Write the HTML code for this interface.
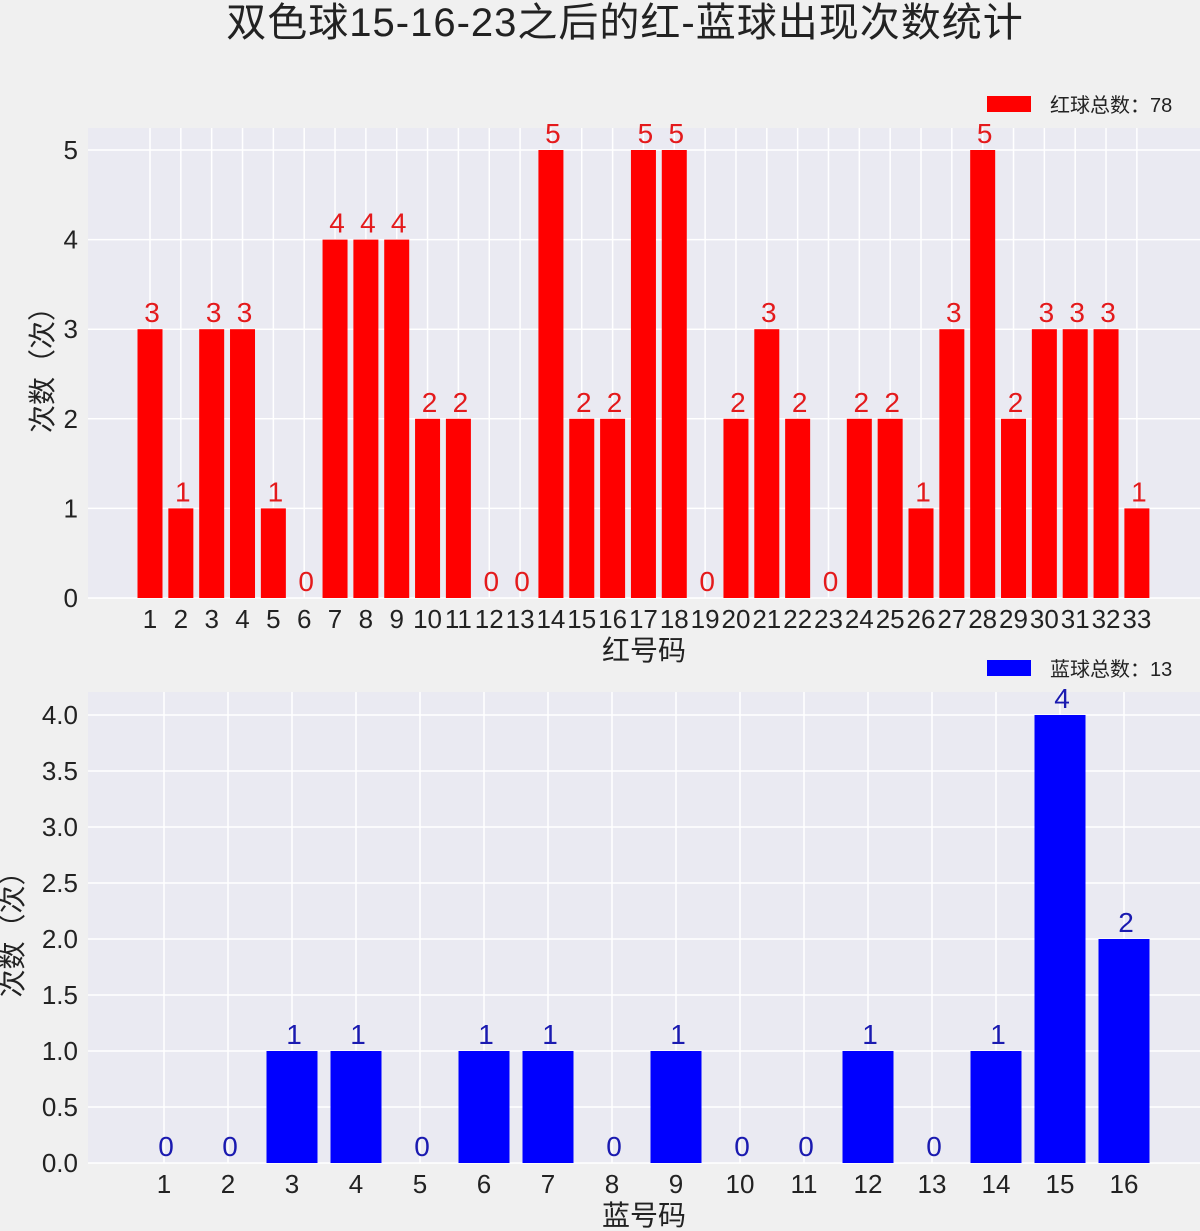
<!DOCTYPE html>
<html><head><meta charset="utf-8">
<style>
html,body{margin:0;padding:0;background:#f0f0f0;}
svg{display:block;font-family:"Liberation Sans","Noto Sans CJK SC",sans-serif;}
</style></head>
<body>
<svg id="c" width="1200" height="1231">
<rect x="0" y="0" width="1200" height="1231" fill="#f0f0f0"/>
<text x="625" y="36" font-size="40" letter-spacing="1" text-anchor="middle" fill="#222">双色球15-16-23之后的红-蓝球出现次数统计</text>
</svg>
<script>
const redCats = [1,2,3,4,5,6,7,8,9,10,11,12,13,14,15,16,17,18,19,20,21,22,23,24,25,26,27,28,29,30,31,32,33];
const redVals = [3,1,3,3,1,0,4,4,4,2,2,0,0,5,2,2,5,5,0,2,3,2,0,2,2,1,3,5,2,3,3,3,1];
const redTicks = [0,1,2,3,4,5];
const blueCats = [1,2,3,4,5,6,7,8,9,10,11,12,13,14,15,16];
const blueVals = [0,0,1,1,0,1,1,0,1,0,0,1,0,1,4,2];
const blueTicks = ["0.0","0.5","1.0","1.5","2.0","2.5","3.0","3.5","4.0"];

const svg = document.getElementById('c');
const NS = 'http://www.w3.org/2000/svg';
function mk(tag, attrs, parent){
  const e = document.createElementNS(NS, tag);
  for (const k in attrs) e.setAttribute(k, attrs[k]);
  (parent||svg).appendChild(e);
  return e;
}

function drawChart(o){
  const g = mk('g', {});
  
  
  const bg = mk('rect', {x:o.left, y:o.top, width:o.right-o.left, height:o.bottom-o.top, fill:'#eaeaf2'}, g);
  
  
  const xs = c => o.x0 + (c - o.cats[0]) * o.step;
  const ys = v => o.y0 - v * o.unit;
  o.ticks.forEach(t => {
    const v = parseFloat(t);
    const y = ys(v);
    const ln = mk('line', {x1:o.left, x2:o.right, y1:y, y2:y, stroke:'#fff', 'stroke-width':1.5}, g);
    
    
    const tx = mk('text', {x:o.left-10, y:y+9, 'font-size':26, 'text-anchor':'end', fill:'#222'}, g);
    tx.textContent = t;
    
    
  });
  o.cats.forEach(c => {
    const x = xs(c);
    const ln = mk('line', {x1:x, x2:x, y1:o.top, y2:o.bottom, stroke:'#fff', 'stroke-width':1.5}, g);
    
    
  });
  o.cats.forEach((c, i) => {
    const x = xs(c), v = o.vals[i];
    const r = mk('rect', {x:x-o.bw/2, y:ys(v), width:o.bw, height:o.y0-ys(v), fill:o.color}, g);
    
    
    const vl = mk('text', {x:x+2, y:ys(v)-7, 'font-size':28, 'text-anchor':'middle', fill:o.labelColor}, g);
    vl.textContent = v;
    
    
    const xl = mk('text', {x:x, y:o.bottom+30, 'font-size':26, 'text-anchor':'middle', fill:'#222'}, g);
    xl.textContent = c;
    
    
  });
  const xt = mk('text', {x:644, y:o.bottom+62, 'font-size':28, 'text-anchor':'middle', fill:'#222'}, g);
  xt.textContent = o.xTitle;
  
  
  const cy = (o.top+o.bottom)/2;
  const yt = mk('text', {x:o.yTitleX, y:cy, 'font-size':28, 'text-anchor':'middle', fill:'#222', transform:'rotate(-90 '+o.yTitleX+' '+cy+')'}, g);
  yt.textContent = '次数（次）';
  
  
  const lg = mk('g', {}, g);
  
  
  mk('rect', {x:987, y:o.legendY-8, width:44, height:16, fill:o.color}, lg);
  const lt = mk('text', {x:1050, y:o.legendY+8, 'font-size':20, fill:'#222'}, lg);
  lt.textContent = o.legend;
}

drawChart({name:'red-chart', left:88, right:1200, top:128, bottom:598, cats:redCats, vals:redVals, ticks:redTicks,
  x0:150, step:30.84, y0:598, unit:89.6, bw:25, color:'#ff0000', labelColor:'#e41a1c',
  xTitle:'红号码', yTitleX:52, legend:'红球总数：78', legendY:104});
drawChart({name:'blue-chart', left:88, right:1200, top:692, bottom:1163, cats:blueCats, vals:blueVals, ticks:blueTicks,
  x0:164, step:64, y0:1163, unit:112, bw:51, color:'#0000ff', labelColor:'#1a1ab0',
  xTitle:'蓝号码', yTitleX:22, legend:'蓝球总数：13', legendY:668});
</script>
</body></html>
